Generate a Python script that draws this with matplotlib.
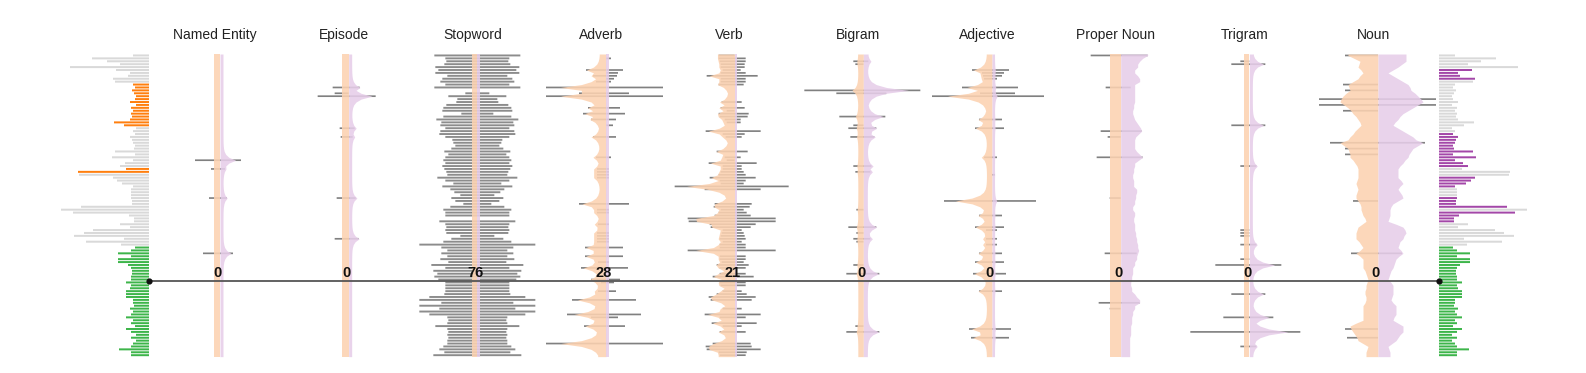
import numpy as np
import matplotlib
matplotlib.use("Agg")
import matplotlib.pyplot as plt

plt.rcParams['font.family'] = ['Liberation Sans', 'DejaVu Sans']

# ---------------- data ----------------
titles = ["Named Entity", "Episode", "Stopword", "Adverb", "Verb",
          "Bigram", "Adjective", "Proper Noun", "Trigram", "Noun"]
counts = [0, 0, 76, 28, 21, 0, 0, 0, 0, 0]

N_ROWS = 104

# lengths of the side bars (same value left and right)
row_lengths = [16, 57, 42, 29, 79, 33, 19, 21, 36, 34,
               16, 14, 17, 15, 13, 14, 19, 13, 18, 16, 18, 17, 19, 35, 25,
               13, 16, 14, 19, 17, 16, 14, 15, 34, 14, 37, 16, 24, 29,
               23, 71, 70,
               36, 32, 27, 16,
               18, 18, 18,
               18, 17, 17,
               68, 88, 76, 20, 15, 15,
               29, 19, 56, 65, 75, 25, 63, 28,
               14, 18, 31, 18, 31, 31, 21, 18, 17, 17, 18, 18, 23, 18, 19, 23, 23, 23, 16, 16,
               15, 19, 16, 18, 23, 16, 18, 14, 23, 18, 13, 18, 13, 16, 18, 30, 18, 18]
# g = gray, o = orange, p = purple, n = green
left_cats = ("gggggggggg" "ooooooooooooooo" "gggggggggggggg" "oo"
             "ggggggggggggggggggggggggg"
             "nnnnnnnnnnnnnnnnnnnnnnnnnnnnnnnnnnnnnn")
right_cats = ("ggggg" "pppp" "gggggggggggggggggg" "pppppppppppp" "ggg" "pppp"
              "ggg" "pppp" "g" "pppp" "gggggggg"
              "nnnnnnnnnnnnnnnnnnnnnnnnnnnnnnnnnnnnnn")

# per-column bars: {row: (left length, right length)}
named_entity_bars = {36: (25, 21), 39: (9, 5), 49: (11, 7), 68: (17, 13)}
episode_bars = {11: (16, 11), 13: (14, 0), 14: (31, 27), 25: (9, 6), 28: (8, 4),
                49: (12, 7), 63: (14, 10)}
stopword_half = [43, 32, 31, 33, 42, 39, 42, 30, 35, 37,
                 32, 43, 0, 12, 29, 20, 21, 31, 34, 35,
                 16, 34, 41, 36, 37, 32, 37, 38, 32, 25,
                 24, 22, 26, 33, 29, 32, 34, 32, 35, 33,
                 31, 30, 40, 32, 24, 35, 27, 23, 17, 26,
                 22, 14, 27, 34, 32, 32, 0, 38, 32, 31,
                 32, 31, 17, 26, 34, 58, 36, 30, 36, 30,
                 37, 29, 46, 32, 44, 40, 43, 39, 32, 32,
                 32, 32, 33, 48, 58, 36, 58, 38, 58, 48,
                 30, 29, 30, 42, 30, 29, 30, 29, 30, 30,
                 34, 38, 33, 44]
adverb_bars = {1: (0, 5), 5: (20, 17), 6: (0, 12), 7: (13, 11), 8: (0, 8), 9: (10, 5),
               11: (60, 57), 13: (27, 23), 14: (60, 57), 18: (18, 14), 20: (23, 19),
               22: (15, 10), 24: (0, 7), 28: (13, 10), 35: (10, 5), 39: (9, 3),
               40: (9, 3), 41: (9, 3), 42: (9, 3), 51: (27, 23), 53: (9, 3), 54: (9, 3),
               58: (8, 3), 61: (9, 3), 62: (9, 3), 63: (9, 3), 64: (9, 3), 66: (21, 17),
               69: (21, 17), 71: (8, 3), 73: (25, 22), 77: (15, 14), 78: (5, 8),
               81: (8, 10), 84: (34, 30), 89: (39, 35), 90: (15, 12), 93: (22, 19),
               99: (60, 57)}
verb_left = [16, 16, 15, 14, 14, 12, 14, 28, 14, 14,
             16, 0, 0, 0, 0, 0, 13, 0, 14, 8,
             16, 15, 10, 8, 0, 0, 29, 12, 9, 0,
             0, 0, 0, 18, 0, 10, 8, 26, 12, 12,
             14, 16, 25, 15, 14, 60, 30, 0, 0, 0,
             0, 20, 21, 14, 16, 20, 47, 46, 25, 24,
             12, 13, 14, 15, 12, 15, 15, 47, 0, 15,
             15, 13, 18, 15, 0, 15, 22, 0, 15, 14,
             0, 12, 18, 26, 24, 0, 0, 12, 0, 30,
             15, 0, 23, 12, 0, 15, 0, 0, 0, 22,
             29, 28, 16, 15]
verb_right = [0, 11, 11, 10, 10, 6, 11, 23, 11, 11,
              9, 0, 0, 0, 0, 0, 7, 0, 10, 0,
              14, 13, 6, 6, 0, 0, 26, 10, 7, 0,
              0, 0, 0, 13, 0, 6, 0, 22, 7, 7,
              9, 11, 21, 11, 9, 54, 26, 0, 0, 0,
              0, 17, 15, 9, 12, 16, 41, 41, 21, 16,
              7, 9, 10, 11, 7, 11, 11, 41, 0, 11,
              11, 9, 14, 11, 0, 11, 19, 0, 11, 11,
              0, 7, 12, 21, 17, 0, 0, 7, 0, 26,
              11, 0, 22, 7, 0, 11, 0, 0, 0, 16,
              17, 26, 12, 11]
bigram_bars = {2: (10, 5), 3: (8, 0), 12: (59, 57), 13: (27, 23), 21: (24, 22),
               24: (10, 0), 25: (15, 13), 28: (13, 11), 38: (10, 8), 40: (8, 7),
               53: (7, 0), 59: (15, 13), 61: (7, 0), 63: (10, 7), 64: (7, 0),
               72: (10, 0), 75: (17, 16), 93: (8, 0), 95: (17, 16)}
adjective_bars = {5: (20, 17), 6: (10, 12), 7: (9, 10), 8: (8, 5), 11: (30, 26),
                  13: (12, 23), 14: (60, 52), 22: (13, 10), 25: (17, 12), 35: (8, 5),
                  41: (0, 3), 50: (48, 44), 55: (13, 10), 59: (17, 12), 60: (6, 5),
                  63: (6, 5), 65: (6, 5), 68: (13, 10), 71: (17, 12), 75: (19, 14),
                  81: (13, 10), 94: (23, 19), 97: (21, 17)}
proper_noun_bars = {0: (30, 27), 11: (15, 10), 26: (20, 21), 28: (13, 0), 35: (24, 22),
                    49: (11, 0), 68: (16, 16), 85: (22, 19), 87: (11, 0)}
proper_noun_area_right = [27, 22, 19, 17, 17, 14, 14, 17, 19, 19,
                          14, 14, 14, 14, 14, 14, 14, 13, 13, 12,
                          12, 13, 14, 16, 18, 20, 21, 18, 15, 14,
                          14, 14, 14, 16, 19, 22, 18, 14, 14, 13,
                          13, 12, 12, 13, 13, 13, 16, 16, 15, 15,
                          14, 14, 12, 12, 14, 14, 13, 13, 14, 14,
                          14, 15, 15, 16, 16, 17, 17, 18, 17, 16,
                          16, 14, 14, 12, 12, 12, 11, 11, 10, 10,
                          11, 11, 14, 16, 19, 19, 14, 14, 12, 12,
                          11, 11, 11, 10, 10, 10, 10, 9, 9, 9,
                          9, 9, 9, 9]
trigram_bars = {2: (9, 0), 3: (18, 16), 24: (18, 16), 38: (9, 7), 60: (9, 0),
                61: (9, 0), 62: (9, 0), 65: (9, 7), 70: (9, 0), 72: (34, 32),
                82: (18, 16), 90: (26, 24), 95: (59, 51), 100: (9, 7)}
noun_bars = {0: (33, 0), 10: (35, 0), 12: (33, 0), 15: (59, 58), 17: (59, 58),
             19: (35, 0), 30: (48, 47), 32: (33, 0), 34: (33, 0), 50: (25, 0),
             68: (27, 24), 94: (33, 0), 97: (31, 0)}
noun_area_left = [30, 24, 18, 19, 20, 17, 15, 18, 20, 25,
                  30, 29, 28, 32, 35, 37, 38, 34, 30, 27,
                  25, 22, 20, 18, 17, 20, 23, 25, 28, 30,
                  38, 34, 30, 29, 28, 28, 25, 23, 21, 20,
                  20, 20, 20, 21, 22, 21, 20, 21, 22, 22,
                  20, 18, 17, 17, 16, 15, 13, 12, 16, 20,
                  21, 22, 22, 22, 19, 17, 15, 18, 22, 18,
                  15, 15, 15, 15, 13, 12, 11, 10, 11, 12,
                  12, 13, 13, 12, 12, 13, 15, 15, 15, 15,
                  15, 15, 22, 28, 27, 25, 23, 21, 20, 15,
                  10, 11, 12, 12]
noun_area_right = [28, 28, 28, 24, 20, 15, 10, 15, 20, 25,
                   30, 32, 33, 37, 40, 43, 45, 40, 35, 30,
                   25, 22, 20, 17, 15, 20, 25, 30, 35, 38,
                   45, 40, 35, 33, 31, 30, 27, 25, 22, 20,
                   20, 20, 20, 23, 25, 22, 20, 22, 24, 25,
                   20, 15, 13, 12, 12, 12, 11, 10, 18, 25,
                   27, 28, 26, 25, 22, 21, 20, 23, 25, 21,
                   18, 17, 16, 15, 13, 12, 11, 10, 13, 15,
                   15, 15, 15, 14, 13, 15, 18, 18, 18, 18,
                   16, 15, 20, 25, 25, 25, 22, 20, 18, 14,
                   10, 11, 12, 12]

# ---------------- layout / style ----------------
W, H = 1586, 373
ROW_TOP, ROW_PITCH = 54.0, 2.91
LEFT_EDGE, RIGHT_EDGE = 149, 1439
AXIS_ROW = 77.6
centers = np.linspace(218, 1376, 10)
BOUND_OFF = 2.0

CAT_COLORS = {'g': '#d9d9d9', 'o': '#ff7f0e', 'p': '#a347a8', 'n': '#3db54a'}
BAR_GRAY = '#808080'
STOP_GRAY = '#8c8c8c'
ORANGE_AREA = '#fcd2b1'
PURPLE_AREA = '#e6cde9'

# base stripe widths (orange, purple) and envelope gains (orange, purple)
col_style = [
    (6.5, 3.0, 0.0, 0.6),
    (6.5, 3.0, 0.0, 0.75),
    (5.0, 2.5, 0.0, 0.0),
    (6.5, 2.5, 0.65, 0.0),
    (6.0, 2.5, 0.7, 0.0),
    (5.5, 4.0, 0.1, 0.72),
    (5.5, 2.5, 0.65, 0.05),
    (11.0, 8.0, 0.0, 0.0),
    (5.0, 3.0, 0.0, 0.7),
    (0.0, 0.0, 0.0, 0.0),
]


def from_dict(d):
    L = np.zeros(N_ROWS)
    R = np.zeros(N_ROWS)
    for r, (a, b) in d.items():
        L[r] = a
        R[r] = b
    return L, R


def envelope(v, s=1.3):
    v = np.asarray(v, float)
    idx = np.arange(N_ROWS)
    k = np.exp(-np.abs(idx[:, None] - idx[None, :]) / s)
    return (k * v[None, :]).max(axis=1)


columns = []
columns.append(from_dict(named_entity_bars) + (None, None))
columns.append(from_dict(episode_bars) + (None, None))
sw = np.array(stopword_half, float)
columns.append((sw, sw, None, None))
columns.append(from_dict(adverb_bars) + (None, None))
columns.append((np.array(verb_left, float), np.array(verb_right, float), None, None))
columns.append(from_dict(bigram_bars) + (None, None))
columns.append(from_dict(adjective_bars) + (None, None))
columns.append(from_dict(proper_noun_bars) + (None, np.array(proper_noun_area_right, float)))
columns.append(from_dict(trigram_bars) + (None, None))
columns.append(from_dict(noun_bars) + (np.array(noun_area_left, float),
                                       np.array(noun_area_right, float)))

fig = plt.figure(figsize=(W / 100, H / 100), dpi=100)
ax = fig.add_axes([0, 0, 1, 1])
ax.set_xlim(0, W)
r_top = (0 - ROW_TOP) / ROW_PITCH - 0.5
r_bot = (H - ROW_TOP) / ROW_PITCH - 0.5
ax.set_ylim(r_bot, r_top)
ax.axis('off')

rows = np.arange(N_ROWS)
lengths = np.array(row_lengths, float)

# side panels
for edge, cats, sign in ((LEFT_EDGE, left_cats, -1), (RIGHT_EDGE, right_cats, 1)):
    bars = ax.barh(rows, lengths, left=edge if sign > 0 else edge - lengths,
                   height=0.68, color=[CAT_COLORS[c] for c in cats],
                   linewidth=0, zorder=2)
    for p in bars:
        p.set_snap(False)

y_ext = np.concatenate([[-0.5], rows, [N_ROWS - 0.5]])


def ext(w):
    return np.concatenate([[w[0]], w, [w[-1]]])


for i, (L, R, areaL, areaR) in enumerate(columns):
    b = centers[i] + BOUND_OFF
    bo, bp, go, gp = col_style[i]
    mask = (L + R) > 0
    bars = ax.barh(rows[mask], (L + R)[mask], left=(b - L)[mask],
                   height=0.66 if i == 2 else 0.58,
                   color=STOP_GRAY if i == 2 else BAR_GRAY, linewidth=0, zorder=1)
    for p in bars:
        p.set_snap(False)
    wO = areaL if areaL is not None else bo + go * envelope(L)
    wP = areaR if areaR is not None else bp + gp * envelope(R)
    ax.fill_betweenx(y_ext, b - ext(wO), b, color=ORANGE_AREA, alpha=0.88,
                     linewidth=0, zorder=3)
    ax.fill_betweenx(y_ext, b, b + ext(wP), color=PURPLE_AREA, alpha=0.88,
                     linewidth=0, zorder=3)
    ax.text(centers[i] - 3, -7.0, titles[i], ha='center', va='center',
            fontsize=10, color='#222222', zorder=6)
    ax.text(centers[i], AXIS_ROW - 0.3, str(counts[i]), ha='center', va='bottom',
            fontsize=10.5, fontweight='bold', color='#111111', zorder=7)

ax.plot([LEFT_EDGE, RIGHT_EDGE], [AXIS_ROW, AXIS_ROW], color='#555555', lw=1.3,
        zorder=5, solid_capstyle='butt')
ax.scatter([LEFT_EDGE, RIGHT_EDGE], [AXIS_ROW, AXIS_ROW], s=12, color='#111111',
           zorder=6)

fig.savefig('out.png', dpi=100)
